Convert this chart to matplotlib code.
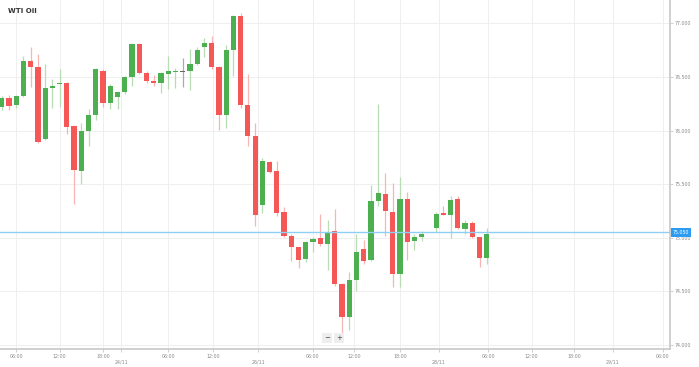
import matplotlib.pyplot as plt
import matplotlib.transforms as mtransforms
import numpy as np

# hourly candles, index 59 has no data (gap before 28/11)
opens = [76.22, 76.30, 76.24, 76.32, 76.65, 76.59, 75.92, 76.40, 76.43, 76.44,
         76.04, 75.62, 76.00, 76.15, 76.56, 76.26, 76.31, 76.36, 76.50, 76.81,
         76.54, 76.46, 76.44, 76.53, 76.55, 76.55, 76.56, 76.62, 76.78, 76.82,
         76.59, 76.15, 76.75, 77.07, 76.24, 75.95, 75.31, 75.71, 75.62, 75.24,
         75.02, 74.91, 74.80, 74.96, 75.00, 74.94, 75.06, 74.57, 74.26, 74.61,
         74.90, 74.79, 75.34, 75.41, 75.24, 74.66, 75.36, 74.97, 75.01, None,
         75.09, 75.23, 75.21, 75.36, 75.08, 75.14, 75.01, 74.81]
highs = [76.32, 76.33, 76.33, 76.70, 76.78, 76.71, 76.62, 76.48, 76.57, 76.45,
         76.05, 76.07, 76.20, 76.58, 76.57, 76.43, 76.37, 76.51, 76.82, 76.82,
         76.56, 76.52, 76.55, 76.70, 76.58, 76.68, 76.76, 76.78, 76.86, 76.88,
         76.60, 76.80, 77.08, 77.10, 76.53, 76.07, 75.74, 75.72, 75.72, 75.29,
         75.04, 74.91, 74.97, 75.01, 75.22, 75.17, 75.27, 74.58, 74.68, 75.04,
         74.98, 75.49, 76.25, 75.60, 75.51, 75.57, 75.43, 75.04, 75.06, None,
         75.24, 75.30, 75.39, 75.39, 75.17, 75.16, 75.01, 75.09]
lows = [76.19, 76.19, 76.21, 76.31, 76.41, 75.88, 75.91, 76.21, 76.22, 75.97,
        75.32, 75.50, 75.86, 76.10, 76.22, 76.20, 76.20, 76.34, 76.42, 76.53,
        76.44, 76.42, 76.35, 76.39, 76.40, 76.41, 76.38, 76.61, 76.69, 76.57,
        76.01, 76.02, 76.51, 76.21, 75.86, 75.11, 75.23, 75.60, 75.20, 75.01,
        74.78, 74.72, 74.77, 74.87, 74.92, 74.70, 74.55, 74.09, 74.14, 74.50,
        74.76, 74.78, 75.30, 75.02, 74.54, 74.54, 74.79, 74.89, 74.97, None,
        75.05, 75.21, 75.00, 75.08, 75.04, 75.00, 74.73, 74.76]
closes = [76.30, 76.23, 76.32, 76.65, 76.59, 75.89, 76.40, 76.42, 76.44, 76.03,
          75.63, 76.00, 76.15, 76.57, 76.26, 76.42, 76.36, 76.50, 76.81, 76.54,
          76.46, 76.44, 76.54, 76.56, 76.56, 76.55, 76.62, 76.75, 76.82, 76.59,
          76.15, 76.75, 77.07, 76.24, 75.95, 75.21, 75.72, 75.61, 75.23, 75.02,
          74.91, 74.79, 74.96, 74.99, 74.94, 75.05, 74.57, 74.26, 74.61, 74.87,
          74.78, 75.34, 75.42, 75.25, 74.66, 75.36, 74.96, 75.01, 75.04, None,
          75.22, 75.21, 75.35, 75.09, 75.14, 75.01, 74.81, 75.04]

last_price = 75.05

tick_pos = [2, 8, 14, 16.5, 23, 29.2, 35.4, 43, 48.7, 55, 60.4, 67.2, 73.2, 79.1, 84.4, 91.3]
tick_labels = ["06:00", "12:00", "18:00", "\n24/11", "06:00", "12:00", "\n26/11", "06:00",
               "12:00", "18:00", "\n28/11", "06:00", "12:00", "18:00", "\n29/11", "06:00"]
price_ticks = [74.0, 74.5, 75.0, 75.5, 76.0, 76.5, 77.0]

RED, GREEN, GRAY = "#f55656", "#4caf50", "#666666"
RED_W, GREEN_W, GRAY_W = "#f8b4b4", "#b8ddb4", "#aaaaaa"

fig = plt.figure(figsize=(6.99, 3.67), dpi=100)
ax = fig.add_axes([0, 1 - 349 / 367, 670 / 699, 349 / 367])

for i, (o, h, l, c) in enumerate(zip(opens, highs, lows, closes)):
    if o is None:
        continue
    if c > o:
        body, wick = GREEN, GREEN_W
    elif c < o:
        body, wick = RED, RED_W
    else:
        body, wick = GRAY, GRAY_W
    ax.vlines(i, l, h, color=wick, lw=0.9, zorder=2)
    ax.bar(i, max(abs(c - o), 0.01), bottom=min(o, c), width=0.72,
           color=body, zorder=3)

ax.axhline(last_price, color="#8ecff4", lw=1.0, zorder=4)

ax.set_xlim(-0.235, 92.3)
ax.set_ylim(73.963, 77.218)

ax.set_xticks(tick_pos)
ax.set_xticklabels(tick_labels)
ax.set_yticks(price_ticks)
ax.set_yticklabels([f"{p:.3f}" for p in price_ticks])
ax.yaxis.tick_right()
ax.tick_params(axis="both", labelsize=3.4, colors="#c8c8c8", labelcolor="#8a8a8a",
               length=2, width=0.6, pad=1.5)

ax.grid(True, color="#efefef", lw=0.7, zorder=0)
for side in ["top", "left"]:
    ax.spines[side].set_visible(False)
for side in ["right", "bottom"]:
    ax.spines[side].set_color("#c8c8c8")
    ax.spines[side].set_linewidth(1.2)

# current price tag on the right axis
trans = mtransforms.blended_transform_factory(ax.transAxes, ax.transData)
ax.text(1.004, last_price, "75.050", transform=trans, fontsize=3.4, color="white",
        va="center", ha="left", zorder=6, clip_on=False,
        bbox=dict(boxstyle="square,pad=0.35", fc="#2b9cf2", ec="none"))

fig.text(8 / 699, 1 - 11 / 367, "WTI Oil", fontsize=5, fontweight="bold",
         color="#333333", va="center", ha="left")

# zoom buttons
for x, s in [(327, "\u2212"), (339, "+")]:
    fig.text(x / 699, 1 - 338 / 367, s, fontsize=5, color="#444444", ha="center",
             va="center", bbox=dict(boxstyle="square,pad=0.3", fc="#eeeeee", ec="none"))

fig.savefig("out.png", dpi=100, facecolor="white")
